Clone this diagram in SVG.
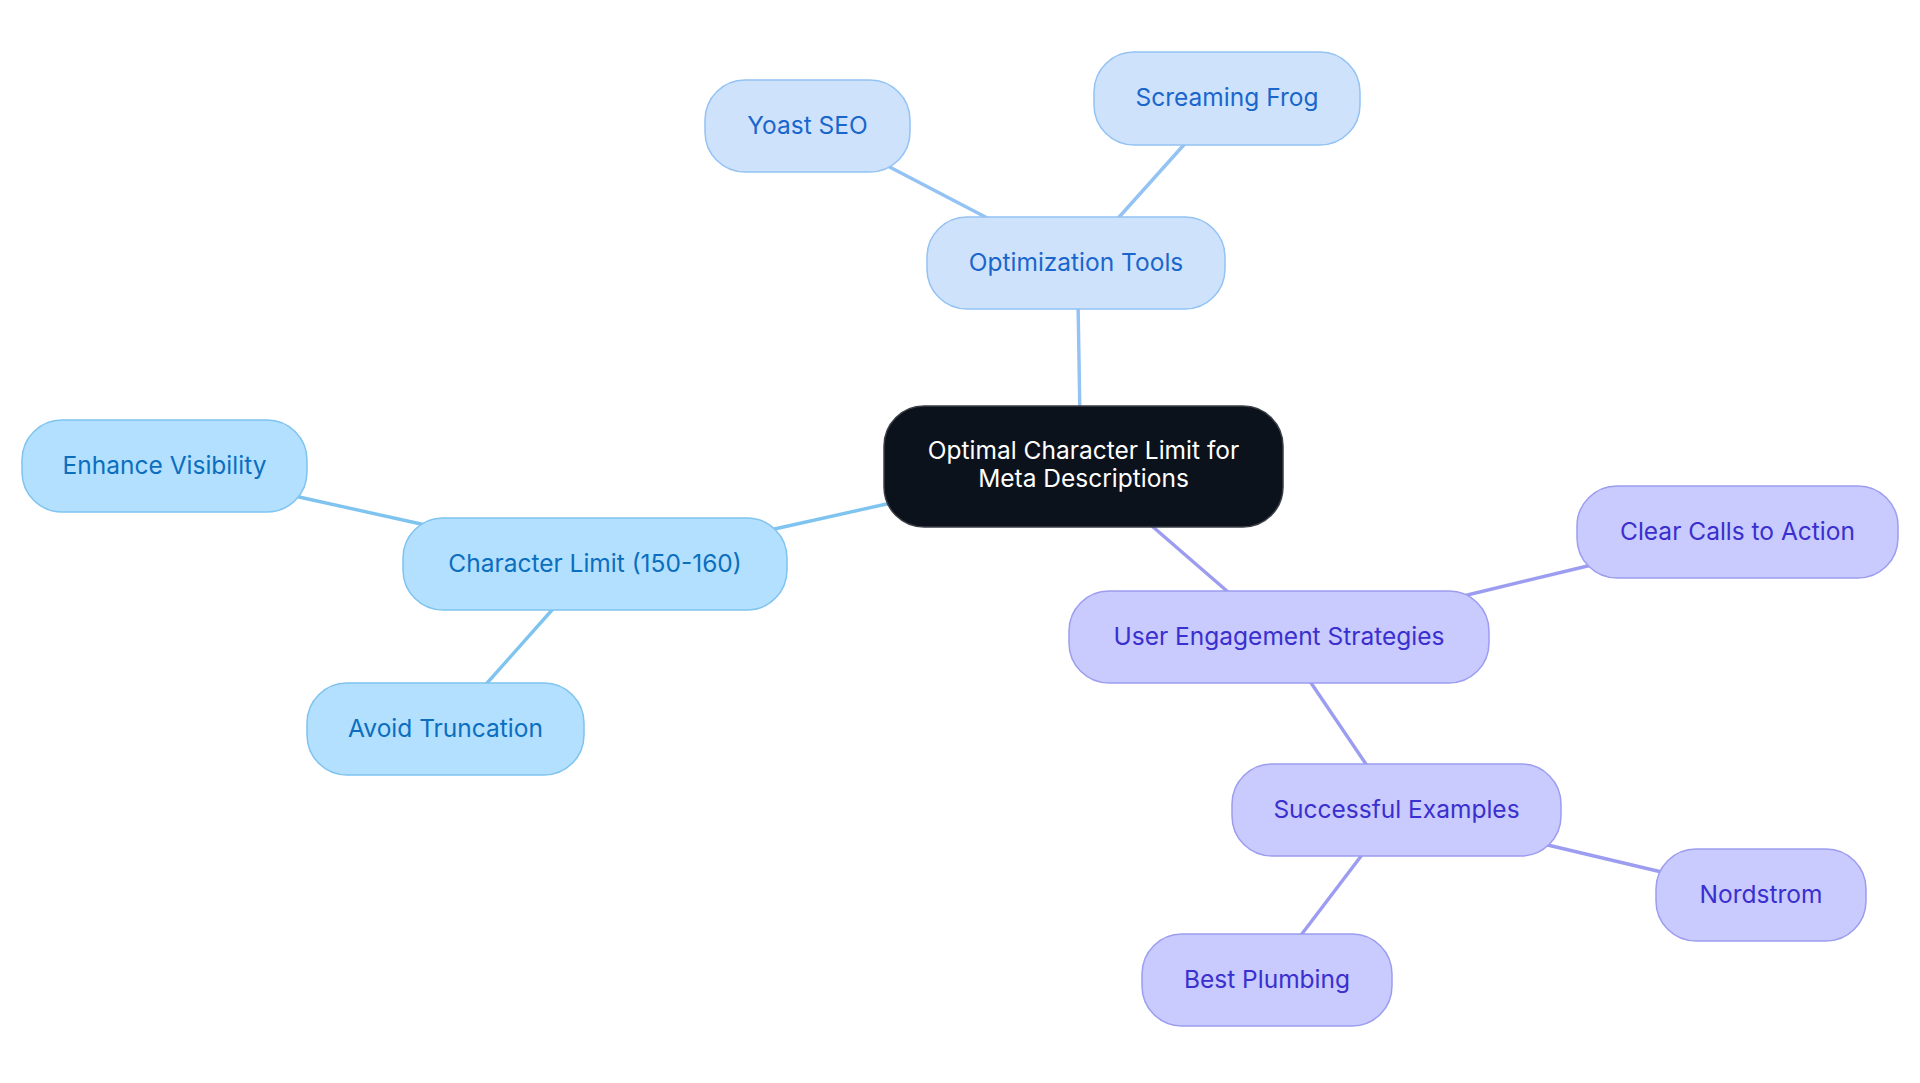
<svg xmlns="http://www.w3.org/2000/svg" width="1920" height="1083" viewBox="0 0 1920 1083">
<style>
text{font-family:Inter,"Noto Sans","Liberation Sans",sans-serif;font-size:24.5px;text-anchor:middle}
.a rect{fill:#CEE3FB;stroke:#93C2F3;stroke-width:1.5}
.a text{fill:#1A66CC}
.b rect{fill:#B3E0FE;stroke:#7FC3EF;stroke-width:1.5}
.b text{fill:#0B6EBF}
.c rect{fill:#C9CAFD;stroke:#9C9DF0;stroke-width:1.5}
.c text{fill:#3A2FCF}
.m rect{fill:#0C121C;stroke:#3A3E45;stroke-width:1.5}
.m text{fill:#FFFFFF}
.ea{stroke:#93C2F3;stroke-width:3.4;fill:none}
.eb{stroke:#7FC3EF;stroke-width:3.4;fill:none}
.ec{stroke:#9C9DF0;stroke-width:3.4;fill:none}
</style>
<rect width="1920" height="1083" fill="#FFFFFF"/>
<g id="connectors">
<line class="ea" x1="1078" y1="300" x2="1080" y2="420"/>
<line class="ea" x1="880" y1="162" x2="995" y2="222"/>
<line class="ea" x1="1190" y1="138" x2="1112" y2="225"/>
<line class="eb" x1="900" y1="501" x2="770" y2="530"/>
<line class="eb" x1="290" y1="495" x2="430" y2="526"/>
<line class="eb" x1="480" y1="691" x2="560" y2="601"/>
<line class="ec" x1="1145" y1="520" x2="1235" y2="598"/>
<line class="ec" x1="1600" y1="563" x2="1455" y2="598"/>
<line class="ec" x1="1305" y1="674" x2="1372" y2="773"/>
<line class="ec" x1="1535" y1="842" x2="1670" y2="874"/>
<line class="ec" x1="1368" y1="847" x2="1295" y2="943"/>
</g>
<g id="n-center" class="m">
<rect x="884" y="406" width="399" height="121" rx="40"/>
<text x="1083.5" y="459">Optimal Character Limit for</text>
<text x="1083.5" y="487">Meta Descriptions</text>
</g>
<g id="n-opt" class="a">
<rect x="927" y="217" width="298" height="92" rx="40"/>
<text x="1076" y="271">Optimization Tools</text>
</g>
<g id="n-yoast" class="a">
<rect x="705" y="80" width="205" height="92" rx="40"/>
<text x="807.5" y="134">Yoast SEO</text>
</g>
<g id="n-frog" class="a">
<rect x="1094" y="52" width="266" height="93" rx="40"/>
<text x="1227" y="106">Screaming Frog</text>
</g>
<g id="n-char" class="b">
<rect x="403" y="518" width="384" height="92" rx="40"/>
<text x="595" y="572">Character Limit (150-160)</text>
</g>
<g id="n-enh" class="b">
<rect x="22" y="420" width="285" height="92" rx="40"/>
<text x="164.5" y="474">Enhance Visibility</text>
</g>
<g id="n-avoid" class="b">
<rect x="307" y="683" width="277" height="92" rx="40"/>
<text x="445.5" y="737">Avoid Truncation</text>
</g>
<g id="n-ues" class="c">
<rect x="1069" y="591" width="420" height="92" rx="40"/>
<text x="1279" y="645">User Engagement Strategies</text>
</g>
<g id="n-cta" class="c">
<rect x="1577" y="486" width="321" height="92" rx="40"/>
<text x="1737.5" y="540">Clear Calls to Action</text>
</g>
<g id="n-succ" class="c">
<rect x="1232" y="764" width="329" height="92" rx="40"/>
<text x="1396.5" y="818">Successful Examples</text>
</g>
<g id="n-nord" class="c">
<rect x="1656" y="849" width="210" height="92" rx="40"/>
<text x="1761" y="903">Nordstrom</text>
</g>
<g id="n-best" class="c">
<rect x="1142" y="934" width="250" height="92" rx="40"/>
<text x="1267" y="988">Best Plumbing</text>
</g>
</svg>
